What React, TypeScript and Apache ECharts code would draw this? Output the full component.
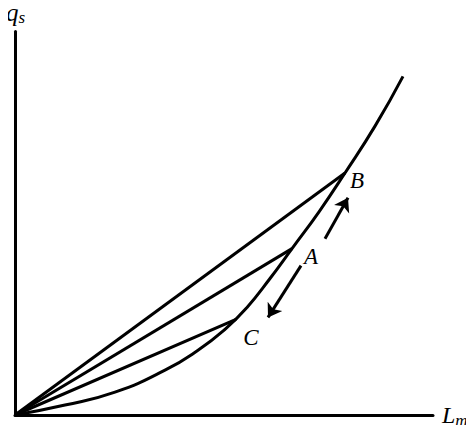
import React, { useEffect, useRef } from 'react'
import * as echarts from 'echarts'

// curve q_s(L_m), in plot units (origin at lower left)
const curveX = [0, 50, 100, 150, 183, 210, 232, 255, 277, 304, 330, 360, 388]
const curveY = [0, 10, 23, 45, 65, 86, 108, 137, 167, 204, 243, 290, 340]
const keyPoints = [
  { name: 'A', value: [277, 167], offset: [19, 8] },
  { name: 'B', value: [330, 243], offset: [12, 8] },
  { name: 'C', value: [221, 96], offset: [15, 18] },
]
const arrows: number[][][] = [
  [[310, 177], [333, 218]],
  [[286, 150], [253, 98]],
]

const App: React.FC = () => {
  const chartRef = useRef<HTMLDivElement>(null)

  useEffect(() => {
    if (!chartRef.current) return
    const chart = echarts.init(chartRef.current, null, { renderer: 'svg' })
    const font = { fontFamily: 'Liberation Serif', fontStyle: 'italic' as const, color: '#000' }
    const lineStyle = { color: '#000', width: 3 }

    chart.setOption({
      animation: false,
      grid: { left: 15, top: 30, width: 418, height: 385 },
      xAxis: {
        type: 'value', min: 0, max: 418,
        axisLine: { lineStyle: { color: '#000', width: 3 } },
        axisTick: { show: false }, axisLabel: { show: false }, splitLine: { show: false },
        name: '{m|L}{s|m}', nameLocation: 'end', nameGap: 9,
        nameTextStyle: {
          rich: {
            m: { ...font, fontSize: 24 },
            s: { ...font, fontSize: 17, padding: [10, 0, 0, 0] },
          },
        },
      },
      yAxis: {
        type: 'value', min: 0, max: 385,
        axisLine: { lineStyle: { color: '#000', width: 3 } },
        axisTick: { show: false }, axisLabel: { show: false }, splitLine: { show: false },
        name: '{m|q}{s|s}', nameLocation: 'end', nameGap: 6,
        nameTextStyle: {
          align: 'left', padding: [0, 0, 0, -9],
          rich: {
            m: { ...font, fontSize: 25 },
            s: { ...font, fontSize: 17, padding: [9, 0, 0, 0] },
          },
        },
      },
      series: [
        {
          type: 'line', data: curveX.map((x, i) => [x, curveY[i]]),
          smooth: 0.5, symbol: 'none', lineStyle,
        },
        ...keyPoints.map((p) => ({
          type: 'line', data: [[0, 0], p.value], symbol: 'none', lineStyle,
        })),
        {
          type: 'scatter', symbolSize: 0,
          data: keyPoints.map((p) => ({
            value: p.value,
            label: {
              show: true, formatter: p.name, position: 'inside', offset: p.offset,
              ...font, fontSize: 23, textBorderWidth: 0, opacity: 1,
            },
          })),
        },
        {
          type: 'lines', coordinateSystem: 'cartesian2d',
          symbol: ['none', 'arrow'], symbolSize: 13,
          lineStyle: { color: '#000', width: 3, opacity: 1 },
          data: arrows.map((a) => ({ coords: a })),
        },
      ],
    })
    return () => chart.dispose()
  }, [])

  return <div ref={chartRef} style={{ width: 474, height: 433, margin: -8 }} />
}

export default App
